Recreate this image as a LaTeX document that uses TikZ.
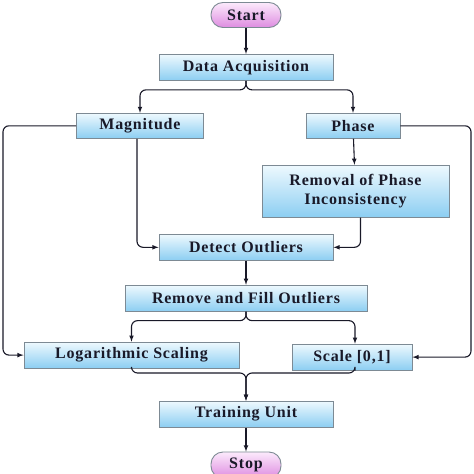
\documentclass[tikz,border=0pt]{standalone}
\usepackage{fontspec}
\setmainfont{Liberation Serif}[LetterSpace=5]
\usetikzlibrary{shapes,arrows,positioning}
\definecolor{boxtop}{RGB}{238,249,254}
\definecolor{boxbot}{RGB}{140,206,242}
\definecolor{termtop}{RGB}{252,234,252}
\definecolor{termbot}{RGB}{222,140,224}
\definecolor{edgegray}{RGB}{125,138,148}
\definecolor{inkdark}{RGB}{25,25,40}

\begin{document}
\begin{tikzpicture}[
    x=1pt, y=1pt,
    font=\fontsize{16}{18.5}\selectfont\bfseries,
    box/.style={rectangle, draw=edgegray, line width=0.9pt, top color=boxtop, bottom color=boxbot,
        text=inkdark, minimum height=26pt, inner sep=2pt, align=center},
    term/.style={rectangle, rounded corners=12pt, draw=edgegray, line width=0.9pt, top color=termtop,
        bottom color=termbot, text=inkdark, minimum width=70pt, minimum height=25pt},
    link/.style={->, >=latex, line width=1.1pt, draw=inkdark, rounded corners=6pt}
]
\useasboundingbox (0,0) rectangle (474,-474);

\node[term] (start) at (246,-15) {Start};
\node[box, minimum width=174pt] (acq) [below=26pt of start] {Data Acquisition};
\node[box, minimum width=127pt, minimum height=25pt] (mag) [below=32pt of acq, xshift=-106pt] {Magnitude};
\node[box, minimum width=94pt, minimum height=25pt] (phase) [below=32pt of acq, xshift=107pt] {Phase};
\node[box, minimum width=187pt, minimum height=52pt] (incons) [below=26pt of phase, xshift=2.5pt] {Removal of Phase\\Inconsistency};
\node[box, minimum width=174pt] (detect) [below=153pt of acq] {Detect Outliers};
\node[box, minimum width=242pt] (fill) [below=24pt of detect] {Remove and Fill Outliers};
\node[box, minimum width=215pt] (logsc) [below=30pt of fill, xshift=-114.5pt] {Logarithmic Scaling};
\node[box, minimum width=120pt] (unit) [below=32pt of fill, xshift=106pt] {Scale [0,1]};
\node[box, minimum width=174pt] (train) [below=89pt of fill] {Training Unit};
\node[term, minimum height=26pt] (stop) [below=24pt of train] {Stop};

\coordinate (lft) at (3,-240);
\coordinate (rgt) at (471,-240);
\coordinate (merge) at (246,-373);

\draw[link] (start) -- (acq);
\draw[link] (acq.south) -- ++(0,-9) -| (mag);
\draw[link] (acq.south) -- ++(0,-9) -| (phase);
\draw[link] (mag.west) -| (lft) |- (logsc.west);
\draw[link] (phase.east) -| (rgt) |- (unit.east);
\draw[link] (phase) -- (incons);
\draw[link] ([xshift=-3pt]mag.south) |- (detect.west);
\draw[link] ([xshift=5pt]incons.south) |- (detect.east);
\draw[link] (detect) -- (fill);
\draw[link] (fill.south) -- ++(0,-9) -| (logsc);
\draw[link] (fill.south) -- ++(0,-9) -| ([xshift=3pt]unit.north);
\draw[link] (logsc.south) |- (merge) -- (train.north);
\draw[link] ([xshift=3pt]unit.south) |- (merge) -- (train.north);
\draw[link] (train) -- (stop);
\end{tikzpicture}
\end{document}
